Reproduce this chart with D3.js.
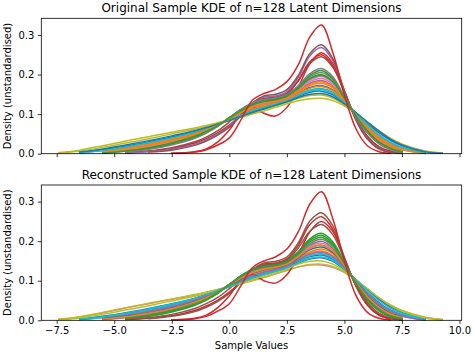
<!DOCTYPE html>
<html><head><meta charset="utf-8">
<script src="https://cdn.jsdelivr.net/npm/d3@7"></script>
<style>body{margin:0;background:#fff}svg{display:block}text{font-family:"DejaVu Sans",sans-serif;fill:#000}</style>
</head><body><svg id="c" width="474" height="355"></svg>
<script>
// Shared x grid for all KDE curves (sample values)
const xGrid = [-7.4,-6.5,-5.5,-4.5,-3.5,-2.5,-1.5,-1,-0.5,0,0.5,1,1.5,2,2.5,3,3.5,4,4.5,5,5.5,6,6.5,7,7.5,8.5,9.25];
const xTicks = [-7.5,-5,-2.5,0,2.5,5,7.5,10];
const yTicks = [0,0.1,0.2,0.3];
const titles = ["Original Sample KDE of n=128 Latent Dimensions","Reconstructed Sample KDE of n=128 Latent Dimensions"];
const xLabel = "Sample Values";
const yLabel = "Density (unstandardised)";
const palette = ["#1f77b4","#ff7f0e","#2ca02c","#d62728","#9467bd","#8c564b","#e377c2","#7f7f7f","#bcbd22","#17becf"];

// Density values of each plotted latent dimension (original samples)
const originalCurves = [
[null,null,0.005,0.013,0.023,0.035,0.051,0.061,0.073,0.087,0.101,0.113,0.122,0.128,0.137,0.153,0.167,0.172,0.161,0.133,0.1,0.067,0.041,0.023,0.011,0.001,null],
[null,null,0.005,0.012,0.021,0.033,0.049,0.06,0.073,0.088,0.103,0.116,0.125,0.131,0.139,0.156,0.172,0.178,0.166,0.135,0.099,0.065,0.038,0.02,0.01,0.001,null],
[null,null,0.002,0.007,0.015,0.027,0.044,0.056,0.072,0.091,0.11,0.125,0.133,0.137,0.146,0.166,0.19,0.2,0.182,0.14,0.095,0.057,0.03,0.014,0.005,null,null],
[null,null,null,null,null,0.001,0.005,0.012,0.03,0.06,0.1,0.118,0.102,0.095,0.117,0.168,0.228,0.255,0.228,0.158,0.088,0.038,0.012,0.003,null,null,null],
[null,null,0.004,0.01,0.019,0.031,0.047,0.058,0.072,0.088,0.105,0.119,0.128,0.133,0.141,0.159,0.178,0.185,0.171,0.137,0.098,0.062,0.035,0.018,0.008,null,null],
[null,null,null,0.003,0.007,0.015,0.03,0.042,0.058,0.08,0.105,0.128,0.14,0.143,0.153,0.185,0.228,0.245,0.218,0.154,0.09,0.044,0.018,0.006,0.002,null,null],
[null,null,0.003,0.008,0.016,0.028,0.044,0.056,0.071,0.089,0.107,0.122,0.131,0.135,0.144,0.163,0.186,0.195,0.179,0.139,0.096,0.058,0.031,0.015,0.006,null,null],
[null,null,null,0.006,0.013,0.025,0.042,0.055,0.071,0.091,0.111,0.126,0.134,0.138,0.147,0.168,0.194,0.205,0.187,0.142,0.094,0.055,0.028,0.012,0.004,null,null],
[0.003,0.009,0.02,0.032,0.043,0.054,0.065,0.071,0.078,0.085,0.092,0.1,0.108,0.117,0.126,0.134,0.139,0.14,0.134,0.121,0.101,0.078,0.056,0.038,0.024,0.007,0.002],
[null,0.002,0.008,0.017,0.027,0.039,0.054,0.064,0.075,0.087,0.099,0.11,0.119,0.126,0.135,0.149,0.161,0.165,0.155,0.13,0.1,0.07,0.045,0.026,0.014,0.002,null],
[null,0.003,0.01,0.019,0.03,0.042,0.056,0.065,0.075,0.085,0.096,0.106,0.115,0.123,0.132,0.145,0.155,0.158,0.149,0.128,0.103,0.077,0.053,0.034,0.02,0.004,null],
[null,null,0.006,0.014,0.024,0.036,0.052,0.062,0.074,0.087,0.1,0.112,0.121,0.127,0.136,0.152,0.165,0.17,0.159,0.132,0.1,0.068,0.042,0.024,0.012,0.002,null],
[null,null,null,0.005,0.012,0.024,0.04,0.053,0.07,0.09,0.111,0.127,0.136,0.139,0.148,0.17,0.198,0.21,0.19,0.143,0.093,0.053,0.026,0.011,0.004,null,null],
[null,null,null,0.002,0.006,0.013,0.027,0.038,0.053,0.072,0.098,0.125,0.138,0.14,0.15,0.185,0.232,0.25,0.222,0.155,0.09,0.043,0.017,0.006,0.002,null,null],
[null,null,null,0.002,0.005,0.011,0.024,0.035,0.05,0.07,0.097,0.127,0.143,0.146,0.157,0.193,0.247,0.268,0.235,0.158,0.087,0.039,0.014,0.004,0.001,null,null],
[null,null,null,null,0.004,0.009,0.021,0.032,0.047,0.067,0.095,0.128,0.146,0.15,0.162,0.198,0.253,0.275,0.24,0.159,0.085,0.037,0.013,0.004,0.001,null,null],
[null,null,0.003,0.009,0.018,0.029,0.046,0.057,0.071,0.089,0.106,0.12,0.129,0.134,0.142,0.161,0.182,0.19,0.175,0.138,0.097,0.06,0.033,0.016,0.007,null,null],
[null,null,null,0.005,0.011,0.022,0.039,0.052,0.069,0.09,0.112,0.128,0.137,0.14,0.149,0.172,0.202,0.215,0.194,0.144,0.093,0.052,0.025,0.01,0.003,null,null],
[0.002,0.007,0.016,0.027,0.038,0.05,0.062,0.069,0.077,0.085,0.094,0.103,0.112,0.121,0.13,0.14,0.147,0.148,0.14,0.124,0.103,0.08,0.058,0.039,0.024,0.006,0.001],
[null,0.002,0.008,0.017,0.028,0.04,0.055,0.064,0.074,0.085,0.097,0.108,0.117,0.125,0.134,0.147,0.158,0.162,0.152,0.129,0.101,0.073,0.048,0.029,0.016,0.003,null],
[null,0.004,0.012,0.022,0.033,0.045,0.058,0.066,0.075,0.084,0.094,0.104,0.113,0.122,0.131,0.142,0.15,0.152,0.144,0.126,0.104,0.08,0.057,0.037,0.022,0.005,0.001],
[null,null,0.004,0.011,0.02,0.032,0.048,0.059,0.072,0.088,0.104,0.117,0.126,0.132,0.14,0.158,0.175,0.182,0.169,0.136,0.098,0.063,0.036,0.019,0.009,null,null],
[null,null,0.002,0.007,0.015,0.027,0.044,0.056,0.071,0.09,0.108,0.123,0.132,0.136,0.145,0.165,0.189,0.198,0.181,0.14,0.096,0.058,0.03,0.014,0.005,null,null],
[null,null,null,null,null,0.001,0.004,0.01,0.022,0.04,0.085,0.135,0.152,0.162,0.182,0.225,0.295,0.325,0.255,0.148,0.063,0.02,0.005,0.001,null,null,null]
];

// Density values of each plotted latent dimension (reconstructed samples)
const reconstructedCurves = [
[null,0.002,0.008,0.017,0.027,0.039,0.054,0.064,0.075,0.087,0.099,0.11,0.119,0.126,0.135,0.149,0.161,0.165,0.155,0.13,0.1,0.07,0.045,0.026,0.014,0.002,null],
[null,null,0.005,0.013,0.022,0.034,0.05,0.061,0.073,0.087,0.102,0.114,0.123,0.129,0.138,0.155,0.17,0.175,0.163,0.134,0.1,0.066,0.04,0.022,0.011,0.001,null],
[null,null,null,0.005,0.011,0.022,0.039,0.052,0.069,0.09,0.112,0.128,0.137,0.14,0.149,0.172,0.202,0.215,0.194,0.144,0.093,0.052,0.025,0.01,0.003,null,null],
[null,null,null,0.002,0.005,0.012,0.025,0.036,0.051,0.071,0.097,0.126,0.142,0.145,0.155,0.19,0.242,0.262,0.23,0.157,0.088,0.04,0.015,0.005,0.001,null,null],
[null,null,0.003,0.009,0.018,0.029,0.046,0.057,0.071,0.089,0.106,0.12,0.129,0.134,0.142,0.161,0.182,0.19,0.175,0.138,0.097,0.06,0.033,0.016,0.007,null,null],
[null,null,null,null,0.004,0.01,0.022,0.033,0.048,0.068,0.096,0.128,0.145,0.149,0.16,0.196,0.251,0.272,0.238,0.159,0.086,0.038,0.013,0.004,0.001,null,null],
[0.002,0.008,0.019,0.031,0.042,0.053,0.064,0.071,0.078,0.085,0.093,0.101,0.109,0.118,0.127,0.135,0.14,0.14,0.134,0.121,0.101,0.078,0.056,0.038,0.024,0.007,0.002],
[null,null,null,0.006,0.013,0.025,0.042,0.055,0.071,0.091,0.111,0.126,0.134,0.138,0.147,0.168,0.194,0.205,0.187,0.142,0.094,0.055,0.028,0.012,0.004,null,null],
[0.003,0.009,0.02,0.032,0.043,0.054,0.065,0.071,0.078,0.085,0.092,0.1,0.108,0.117,0.126,0.135,0.141,0.142,0.136,0.122,0.102,0.079,0.057,0.039,0.025,0.008,0.002],
[null,0.002,0.007,0.016,0.026,0.038,0.053,0.063,0.075,0.087,0.1,0.111,0.12,0.127,0.136,0.151,0.163,0.168,0.157,0.131,0.1,0.069,0.043,0.025,0.013,0.002,null],
[null,0.003,0.01,0.019,0.03,0.042,0.056,0.065,0.075,0.085,0.096,0.106,0.115,0.123,0.132,0.145,0.155,0.158,0.149,0.128,0.103,0.077,0.053,0.034,0.02,0.004,null],
[null,null,0.004,0.011,0.02,0.032,0.048,0.059,0.072,0.088,0.104,0.117,0.126,0.132,0.14,0.157,0.173,0.18,0.168,0.136,0.099,0.064,0.037,0.019,0.009,null,null],
[null,null,null,0.004,0.01,0.021,0.038,0.051,0.068,0.09,0.112,0.129,0.138,0.141,0.15,0.174,0.206,0.22,0.198,0.146,0.092,0.05,0.024,0.009,0.003,null,null],
[null,null,null,null,null,0.001,0.005,0.013,0.032,0.062,0.1,0.116,0.1,0.094,0.115,0.165,0.224,0.25,0.224,0.156,0.088,0.039,0.013,0.003,null,null,null],
[null,null,0.005,0.013,0.023,0.035,0.051,0.061,0.073,0.087,0.101,0.113,0.122,0.128,0.137,0.153,0.167,0.172,0.161,0.133,0.1,0.067,0.041,0.023,0.011,0.001,null],
[null,null,null,0.003,0.007,0.015,0.03,0.042,0.058,0.08,0.105,0.128,0.14,0.143,0.152,0.183,0.225,0.242,0.216,0.153,0.09,0.045,0.018,0.006,0.002,null,null],
[null,null,0.003,0.008,0.016,0.028,0.044,0.056,0.071,0.089,0.107,0.122,0.131,0.135,0.144,0.163,0.186,0.195,0.179,0.139,0.096,0.058,0.031,0.015,0.006,null,null],
[null,null,0.002,0.007,0.015,0.027,0.044,0.056,0.072,0.091,0.11,0.125,0.133,0.137,0.146,0.166,0.19,0.2,0.182,0.14,0.095,0.057,0.03,0.014,0.005,null,null],
[0.002,0.006,0.015,0.026,0.037,0.049,0.061,0.068,0.076,0.085,0.094,0.104,0.113,0.122,0.131,0.142,0.149,0.15,0.142,0.125,0.103,0.08,0.057,0.038,0.023,0.006,0.001],
[null,0.003,0.009,0.018,0.029,0.041,0.055,0.065,0.075,0.085,0.096,0.107,0.116,0.124,0.133,0.146,0.157,0.16,0.151,0.129,0.102,0.075,0.05,0.031,0.018,0.003,null],
[null,null,0.004,0.01,0.019,0.031,0.047,0.058,0.072,0.088,0.105,0.119,0.128,0.133,0.141,0.159,0.178,0.185,0.171,0.137,0.098,0.062,0.035,0.018,0.008,null,null],
[null,null,0.003,0.009,0.018,0.029,0.046,0.057,0.071,0.089,0.106,0.12,0.129,0.134,0.142,0.161,0.182,0.19,0.175,0.138,0.097,0.06,0.033,0.016,0.007,null,null],
[null,null,null,0.005,0.012,0.024,0.04,0.053,0.07,0.09,0.111,0.127,0.136,0.139,0.148,0.17,0.198,0.21,0.19,0.143,0.093,0.053,0.026,0.011,0.004,null,null],
[null,null,null,null,null,0.001,0.004,0.01,0.023,0.042,0.087,0.133,0.15,0.16,0.18,0.224,0.294,0.325,0.256,0.149,0.063,0.02,0.005,0.001,null,null,null]
];

const svg = d3.select("#c");
const L = 41.3, R = 461.7;
const x = d3.scaleLinear().domain([-8.169, 10.096]).range([L, R]);
const panels = [
  {curves: originalCurves, title: titles[0], top: 18.3, bottom: 153.7, labels: false},
  {curves: reconstructedCurves, title: titles[1], top: 185, bottom: 320.3, labels: true}
];
const fmt = d3.format(".1f");

panels.forEach(p => {
  const y = d3.scaleLinear().domain([0, 0.342]).range([p.bottom, p.top]);
  const g = svg.append("g");
  const line = d3.line()
    .defined(d => d[1] != null)
    .x(d => x(d[0])).y(d => y(d[1]))
    .curve(d3.curveCatmullRom.alpha(0.5));
  p.curves.forEach((c, i) => {
    g.append("path")
      .attr("d", line(xGrid.map((xv, j) => [xv, c[j]])))
      .attr("fill", "none")
      .attr("stroke", palette[i % 10])
      .attr("stroke-width", 1.5)
      .attr("stroke-linejoin", "round")
      .attr("stroke-linecap", "square");
  });
  // axes
  const xAxis = d3.axisBottom(x).tickValues(xTicks).tickSize(3.5).tickPadding(3.5)
    .tickFormat(p.labels ? fmt : () => "");
  const ax = svg.append("g").attr("transform", `translate(0,${p.bottom})`).call(xAxis);
  const yAxis = d3.axisLeft(y).tickValues(yTicks).tickSize(3.5).tickPadding(3.5).tickFormat(fmt);
  const ay = svg.append("g").attr("transform", `translate(${L},0)`).call(yAxis);
  [ax, ay].forEach(a => {
    a.select(".domain").remove();
    a.selectAll(".tick line").attr("stroke", "#000").attr("stroke-width", 0.8);
    a.selectAll("text").attr("font-family", "DejaVu Sans").attr("font-size", 10).attr("fill", "#000");
  });
  // frame
  svg.append("rect").attr("x", L).attr("y", p.top).attr("width", R - L).attr("height", p.bottom - p.top)
    .attr("fill", "none").attr("stroke", "#000").attr("stroke-width", 0.8);
  svg.append("text").attr("x", (L + R) / 2).attr("y", p.top - 6.5).attr("text-anchor", "middle")
    .attr("font-size", 12).text(p.title);
  svg.append("text").attr("transform", `translate(10.5,${(p.top + p.bottom) / 2}) rotate(-90)`)
    .attr("text-anchor", "middle").attr("font-size", 10).text(yLabel);
});
svg.append("text").attr("x", (L + R) / 2).attr("y", 341.7).attr("dy", "0.71em").attr("text-anchor", "middle")
  .attr("font-size", 10).text(xLabel);
</script>
</body></html>
